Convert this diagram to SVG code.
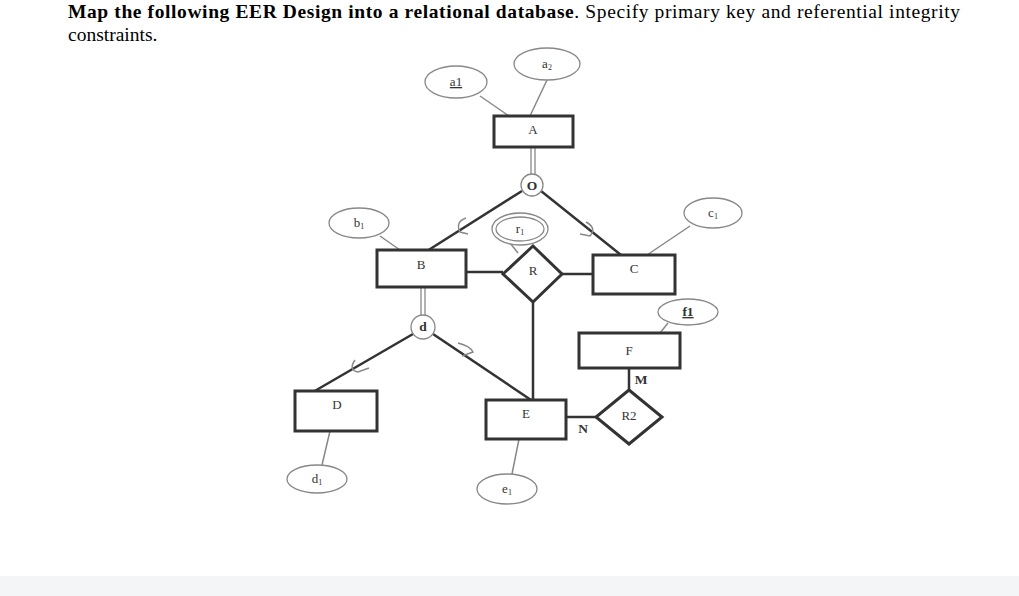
<svg xmlns="http://www.w3.org/2000/svg" width="1019" height="596" viewBox="0 0 1019 596">
<style>
.t{font-family:"Liberation Serif",serif;font-size:19.5px;fill:#000}
.ent{fill:#fff;stroke:#333;stroke-width:3}
.att{fill:#fff;stroke:#888;stroke-width:1.3}
.al{stroke:#888;stroke-width:1.5;fill:none}
.ln{stroke:#333;stroke-width:2.5;fill:none}
.dl{stroke:#999;stroke-width:1.5;fill:none}
.arc{stroke:#888;stroke-width:1.5;fill:none}
.lb{font-family:"Liberation Serif",serif;font-size:13px;fill:#333;text-anchor:middle}
.bl{font-family:"Liberation Serif",serif;font-size:13.5px;font-weight:bold;fill:#333;text-anchor:middle}
</style>
<rect width="1019" height="596" fill="#fff"/>
<rect y="576" width="1019" height="20" fill="#f4f5f7"/>
<text class="t" x="68" y="18" textLength="892" lengthAdjust="spacing"><tspan font-weight="bold">Map the following EER Design into a relational database</tspan>. Specify primary key and referential integrity</text>
<text class="t" x="68" y="41">constraints.</text>
<g id="connectors">
<line class="al" x1="480" y1="96" x2="509" y2="116"/>
<line class="al" x1="547" y1="80" x2="530" y2="116"/>
<line class="dl" x1="531" y1="147" x2="531" y2="174"/>
<line class="dl" x1="535" y1="147" x2="535" y2="174"/>
<line class="ln" x1="522" y1="191" x2="427" y2="251"/>
<line class="ln" x1="541" y1="191" x2="621" y2="255"/>
<path class="arc" d="M466,218 Q455,222 460,232 L468,234"/>
<path class="arc" d="M586,222 Q597,228 590,236 L580,234"/>
<line class="al" x1="380" y1="236" x2="400" y2="250"/>
<line class="al" x1="510" y1="243" x2="518" y2="253"/>
<line class="al" x1="690" y1="226" x2="647" y2="255"/>
<line class="ln" x1="466" y1="272" x2="503" y2="272"/>
<line class="ln" x1="562" y1="274" x2="593" y2="274"/>
<line class="dl" x1="421" y1="287" x2="421" y2="316"/>
<line class="dl" x1="425" y1="287" x2="425" y2="316"/>
<line class="ln" x1="413" y1="334" x2="313" y2="392"/>
<line class="ln" x1="433" y1="334" x2="531" y2="400"/>
<path class="arc" d="M355,360 Q348,370 358,372 L369,368"/>
<path class="arc" d="M458,343 Q470,346 473,352 L462,356"/>
<line class="ln" x1="533" y1="302" x2="533" y2="400"/>
<line class="al" x1="330" y1="431" x2="322" y2="465"/>
<line class="al" x1="519" y1="439" x2="512" y2="474"/>
<line class="ln" x1="566" y1="417" x2="596" y2="417"/>
<line class="ln" x1="629" y1="368" x2="629" y2="390"/>
<line class="al" x1="668" y1="323" x2="660" y2="333"/>
<text class="bl" x="583" y="433">N</text>
<text class="bl" x="641" y="384">M</text>
</g>
<g id="a1"><ellipse class="att" cx="456" cy="82" rx="31" ry="16"/><text class="lb" x="456" y="86" text-decoration="underline">a1</text></g>
<g id="a2"><ellipse class="att" cx="547" cy="64" rx="33" ry="16"/><text class="lb" x="547" y="68">a<tspan font-size="8" dy="2">2</tspan></text></g>
<g id="A"><rect class="ent" x="494" y="116" width="79" height="31"/><text class="lb" x="533" y="134">A</text></g>
<g id="O"><circle cx="532" cy="185" r="11" fill="#fff" stroke="#888" stroke-width="1.3"/><text class="bl" x="532" y="190">O</text></g>
<g id="b1"><ellipse class="att" cx="359" cy="223" rx="30" ry="15"/><text class="lb" x="359" y="227">b<tspan font-size="8" dy="2">1</tspan></text></g>
<g id="r1"><ellipse class="att" cx="520" cy="229" rx="28" ry="16"/><ellipse class="att" cx="520" cy="229" rx="24" ry="12"/><text class="lb" x="520" y="233">r<tspan font-size="8" dy="2">1</tspan></text></g>
<g id="c1"><ellipse class="att" cx="713" cy="213" rx="29" ry="15"/><text class="lb" x="713" y="217">c<tspan font-size="8" dy="2">1</tspan></text></g>
<g id="B"><rect class="ent" x="377" y="250" width="89" height="37"/><text class="lb" x="421" y="269">B</text></g>
<g id="R"><polygon class="ent" points="533,246 562,274 533,302 503,274"/><text class="lb" x="533" y="275">R</text></g>
<g id="C"><rect class="ent" x="593" y="255" width="82" height="39"/><text class="lb" x="634" y="273">C</text></g>
<g id="f1"><ellipse class="att" cx="688" cy="312" rx="30" ry="13"/><text class="bl" x="688" y="316" text-decoration="underline">f1</text></g>
<g id="F"><rect class="ent" x="579" y="333" width="101" height="35"/><text class="lb" x="629" y="355">F</text></g>
<g id="d"><circle cx="423" cy="327" r="12" fill="#fff" stroke="#888" stroke-width="1.3"/><text class="bl" x="423" y="331">d</text></g>
<g id="D"><rect class="ent" x="295" y="391" width="82" height="40"/><text class="lb" x="337" y="409">D</text></g>
<g id="E"><rect class="ent" x="486" y="400" width="80" height="39"/><text class="lb" x="526" y="418">E</text></g>
<g id="R2"><polygon class="ent" points="629,390 662,417 629,444 596,417"/><text class="lb" x="629" y="420">R2</text></g>
<g id="d1"><ellipse class="att" cx="317" cy="479" rx="30" ry="14"/><text class="lb" x="317" y="483">d<tspan font-size="8" dy="2">1</tspan></text></g>
<g id="e1"><ellipse class="att" cx="507" cy="489" rx="30" ry="15"/><text class="lb" x="507" y="493">e<tspan font-size="8" dy="2">1</tspan></text></g>
</svg>
